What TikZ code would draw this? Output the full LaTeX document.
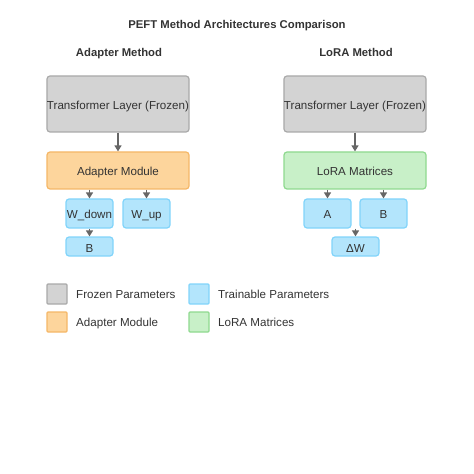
\documentclass[tikz,border=0pt]{standalone}
\usepackage{fontspec}
\setmainfont{Liberation Sans}
\usetikzlibrary{arrows.meta}
\usetikzlibrary{positioning}

\definecolor{txtgray}{HTML}{333333}
\definecolor{arrowgray}{HTML}{666666}
\definecolor{frozenfill}{HTML}{D3D3D3}
\definecolor{frozendraw}{HTML}{A9A9A9}
\definecolor{adapterfill}{HTML}{FDD59C}
\definecolor{adapterdraw}{HTML}{F5B767}
\definecolor{trainfill}{HTML}{B3E5FC}
\definecolor{traindraw}{HTML}{81D4FA}
\definecolor{lorafill}{HTML}{C8F0C8}
\definecolor{loradraw}{HTML}{8FD98F}

\begin{document}
\begin{tikzpicture}[x=1bp,y=-1bp,
    font=\fontsize{11.6bp}{13bp}\selectfont, text=txtgray,
    heading/.style={anchor=base, inner sep=0pt, font=\fontsize{11.3bp}{13bp}\selectfont\bfseries},
    box/.style={rounded corners=3bp, line width=1.2bp, inner sep=0pt, text height=11bp, text depth=0bp},
    frozen/.style={box, fill=frozenfill, draw=frozendraw, minimum width=142bp, minimum height=56bp},
    adapter/.style={box, fill=adapterfill, draw=adapterdraw, minimum width=142bp, minimum height=37bp},
    lora/.style={box, fill=lorafill, draw=loradraw, minimum width=142bp, minimum height=37bp},
    train/.style={box, fill=trainfill, draw=traindraw, minimum width=47bp, minimum height=29bp},
    trainsmall/.style={train, minimum height=19bp},
    swatch/.style={rounded corners=1bp, line width=1.2bp, inner sep=0pt, minimum size=20bp},
    keytext/.style={anchor=base west, inner sep=0pt},
    flow/.style={-{Triangle[length=6bp,width=7bp]}, draw=arrowgray, line width=1.3bp}]
            \useasboundingbox (0,0) rectangle (474,474);

            % headings
            \node[heading] (title) at (237,28.3) {PEFT Method Architectures Comparison};
            \node[heading] (headA) at (119,56.7) {Adapter Method};
            \node[heading] (headL) at (356,56.7) {LoRA Method};

            % adapter side
            \node[frozen] (transA) at (118,104) {Transformer Layer (Frozen)};
            \node[adapter] (adapterMod) at (118,170.5) {Adapter Module};
            \node[train] (wdown) at (89.5,213.5) {W\_down};
            \node[train] (wup) at (146.5,213.5) {W\_up};
            \node[trainsmall] (bA) at (89.5,246.5) {B};

            % lora side
            \node[frozen] (transL) at (355,104) {Transformer Layer (Frozen)};
            \node[lora] (loraMat) at (355,170.5) {LoRA Matrices};
            \node[train] (aL) at (327.5,213.5) {A};
            \node[train] (bL) at (383.5,213.5) {B};
            \node[trainsmall] (dW) at (355.5,246.5) {ΔW};
            \coordinate (abmid) at (aL.south -| dW);

            \draw[flow] (transA) -- (adapterMod);
            \draw[flow] (adapterMod.south -| wdown) -- (wdown);
            \draw[flow] (adapterMod.south -| wup) -- (wup);
            \draw[flow] (wdown) -- (bA);
            \draw[flow] (transL) -- (loraMat);
            \draw[flow] (loraMat.south -| aL) -- (aL);
            \draw[flow] (loraMat.south -| bL) -- (bL);
            \draw[flow] (abmid) -- (dW);

            % legend
            \node[swatch, fill=frozenfill, draw=frozendraw] (keyFrozen) at (57,294) {};
            \node[keytext] (txtFrozen) at (76,298.5) {Frozen Parameters};
            \node[swatch, fill=trainfill, draw=traindraw] (keyTrain) at (199,294) {};
            \node[keytext] (txtTrain) at (218,298.5) {Trainable Parameters};
            \node[swatch, fill=adapterfill, draw=adapterdraw] (keyAdapter) at (57,322) {};
            \node[keytext] (txtAdapter) at (76,326.7) {Adapter Module};
            \node[swatch, fill=lorafill, draw=loradraw] (keyLora) at (199,322) {};
            \node[keytext] (txtLora) at (218,326.7) {LoRA Matrices};
        \end{tikzpicture}
\end{document}
